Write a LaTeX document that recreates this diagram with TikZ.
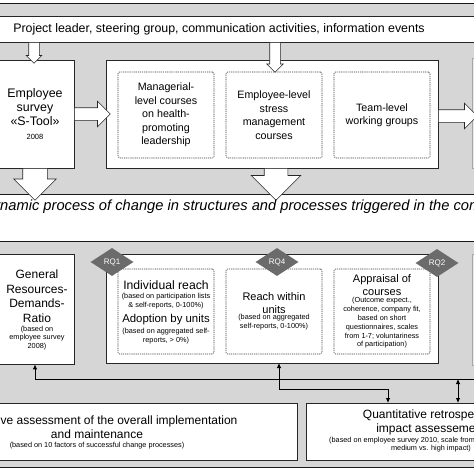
\documentclass[tikz,border=0pt]{standalone}
\usepackage{fontspec}
\setmainfont{Liberation Sans}
\usetikzlibrary{shapes.geometric,shapes.arrows,arrows.meta}

\tikzset{
  panel/.style={fill=black!16, draw=none},
  edge/.style={draw=black!90, line width=0.8pt},
  whitebox/.style={draw=black!85, fill=white, line width=0.7pt, inner sep=0pt, align=center},
  stubbox/.style={draw=black!35, fill=black!9, line width=0.5pt, inner sep=0pt},
  dashbox/.style={draw=black!75, fill=white, line width=0.6pt, dash pattern=on 1.2pt off 0.9pt,
    rounded corners=1.5pt, inner sep=0pt, align=center},
  fatarrow/.style={single arrow, draw=black!85, fill=white, line width=0.6pt, inner xsep=0pt,
    minimum width=0pt, single arrow tip angle=90, anchor=tail},
  rq/.style={diamond, aspect=1.5, fill=black!58, text=white, inner sep=0pt,
    minimum width=43pt, minimum height=28pt, font=\fontsize{8}{9}\selectfont},
  midtxt/.style={align=center, font=\fontsize{10.7}{13.5}\selectfont},
  bigtxt/.style={align=center, font=\fontsize{11}{13}\selectfont},
  hugetxt/.style={align=center, font=\fontsize{12}{14.5}\selectfont},
  smalltxt/.style={align=center, font=\fontsize{7.3}{8.8}\selectfont},
  link/.style={line width=0.8pt, -{Latex[length=5pt,width=4.5pt]}},
  dlink/.style={line width=0.8pt, {Latex[length=5pt,width=4.5pt]}-{Latex[length=5pt,width=4.5pt]}},
}

\begin{document}
\begin{tikzpicture}[x=1pt, y=-1pt]
\useasboundingbox (0,0) rectangle (474,474);
\clip (0,0) rectangle (474,474);

% upper panel
\fill[panel] (-10,3) rectangle (484,194);
\draw[edge] (-10,3) -- (484,3);
\draw[edge] (-10,194) -- (484,194);
\node[whitebox, minimum width=530pt, minimum height=26pt, font=\fontsize{12.4}{14}\selectfont]
  (lead) at (219,29) {Project leader, steering group, communication activities, information events};

\node[whitebox, minimum width=78pt, minimum height=108pt, font=\fontsize{12.4}{14}\selectfont]
  (survey) at (35,114) {Employee\\survey\\«S-Tool»\\{\fontsize{7.5}{9}\selectfont 2008}};
\node[whitebox, minimum width=332pt, minimum height=108pt] (courses) at (272,114) {};
\node[stubbox, anchor=north west, minimum width=40pt, minimum height=110pt] (nextA) at (472,58) {};

\node[dashbox, midtxt, minimum width=96pt, minimum height=86pt] (mgr) at (166,115)
  {Managerial-\\level courses\\on health-\\promoting\\leadership};
\node[dashbox, midtxt, minimum width=96pt, minimum height=86pt] (stress) at (274,115)
  {Employee-level\\stress\\management\\courses};
\node[dashbox, midtxt, minimum width=96pt, minimum height=86pt] (team) at (382,115)
  {Team-level\\working groups};

% block arrows
\node[fatarrow, rotate=-90, minimum height=21pt, inner ysep=5pt, single arrow head extend=2.5pt] (inA) at (34,42) {};
\node[fatarrow, rotate=-90, minimum height=30pt, inner ysep=5pt, single arrow head extend=3pt] (inB) at (275,42) {};
\node[fatarrow, minimum height=36pt, inner ysep=6pt, single arrow head extend=6.5pt] (toC) at (74,114) {};
\node[fatarrow, minimum height=39pt, inner ysep=6pt, single arrow head extend=6.5pt] (toN) at (438,116) {};
\node[fatarrow, rotate=-90, minimum height=32pt, inner ysep=12pt, single arrow head extend=9pt] (outA) at (35,168) {};
\node[fatarrow, rotate=-90, minimum height=32pt, inner ysep=11.5pt, single arrow head extend=13pt] (outB) at (276,168) {};

\node[anchor=west, inner sep=0pt, font=\fontsize{14.7}{16}\selectfont\itshape] (dyn) at (-18,207)
  {Dynamic process of change in structures and processes triggered in the company};

% lower panel
\fill[panel] (-10,241) rectangle (484,467);
\draw[edge] (-10,241) -- (484,241);
\draw[edge] (-10,467) -- (484,467);

\node[whitebox, minimum width=78pt, minimum height=110pt] (ratio) at (35,309) {};
\node[hugetxt] (ratioT) at (37,296) {General\\Resources-\\Demands-\\Ratio};
\node[smalltxt] (ratioS) at (37,338) {(based on\\employee survey\\2008)};

\node[whitebox, minimum width=332pt, minimum height=109pt] (eval) at (272,308.5) {};
\node[stubbox, anchor=north west, minimum width=40pt, minimum height=111pt] (nextB) at (472,254) {};

\node[dashbox, minimum width=96pt, minimum height=85pt] (reach) at (166,311.5) {};
\node[bigtxt, font=\fontsize{12.2}{14}\selectfont] (reachT) at (166,285) {Individual reach};
\node[smalltxt] (reachS) at (166,301.5) {(based on participation lists\\\& self-reports, 0-100\%)};
\node[bigtxt, font=\fontsize{11.4}{13}\selectfont] (adoptT) at (166,320) {Adoption by units};
\node[smalltxt] (adoptS) at (166,336) {(based on aggregated self-\\reports, > 0\%)};

\node[dashbox, minimum width=96pt, minimum height=85pt] (unit) at (274,311.5) {};
\node[bigtxt] (unitT) at (274,303) {Reach within\\units};
\node[smalltxt] (unitS) at (274,322.5) {(based on aggregated\\self-reports, 0-100\%)};

\node[dashbox, minimum width=96pt, minimum height=85pt] (appr) at (382,311.5) {};
\node[bigtxt] (apprT) at (382,285.5) {Appraisal of\\courses};
\node[smalltxt] (apprS) at (382,323) {(Outcome expect.,\\coherence, company fit,\\based on short\\questionnaires, scales\\from 1-7; voluntariness\\of participation)};

\node[rq] (rq1) at (112,262) {RQ1};
\node[rq] (rq4) at (277,262) {RQ4};
\node[rq] (rq2) at (437,263) {RQ2};

\node[whitebox, minimum width=400pt, minimum height=57pt] (qual) at (97,431.5) {};
\node[hugetxt, font=\fontsize{12}{14}\selectfont] (qualT) at (97,427) {Qualitative assessment of the overall implementation\\and maintenance};
\node[smalltxt] (qualS) at (97,446) {(based on 10 factors of successful change processes)};

\node[whitebox, minimum width=250pt, minimum height=57pt] (quant) at (431,431.5) {};
\node[hugetxt, font=\fontsize{12}{14}\selectfont] (quantT) at (431,422) {Quantitative retrospective\\impact assessement};
\node[smalltxt, anchor=west, inner sep=0pt] (quantS) at (329,441) {(based on employee survey 2010, scale from};
\node[smalltxt] (quantR) at (431,449) {medium vs. high impact)};

% feedback lines
\coordinate (rEdge) at (480,379);
\coordinate (evalOut) at (279,363);
\coordinate (bend) at (279,389);
\coordinate (quantIn) at (388,403);
\coordinate (lineHit) at (458,379);
\coordinate (quantIn2) at (458,403);
\draw[link] (rEdge) -| (ratio.south);
\draw[dlink] (evalOut) -- (bend) -| (quantIn);
\draw[dlink] (lineHit) -- (quantIn2);
\end{tikzpicture}
\end{document}
